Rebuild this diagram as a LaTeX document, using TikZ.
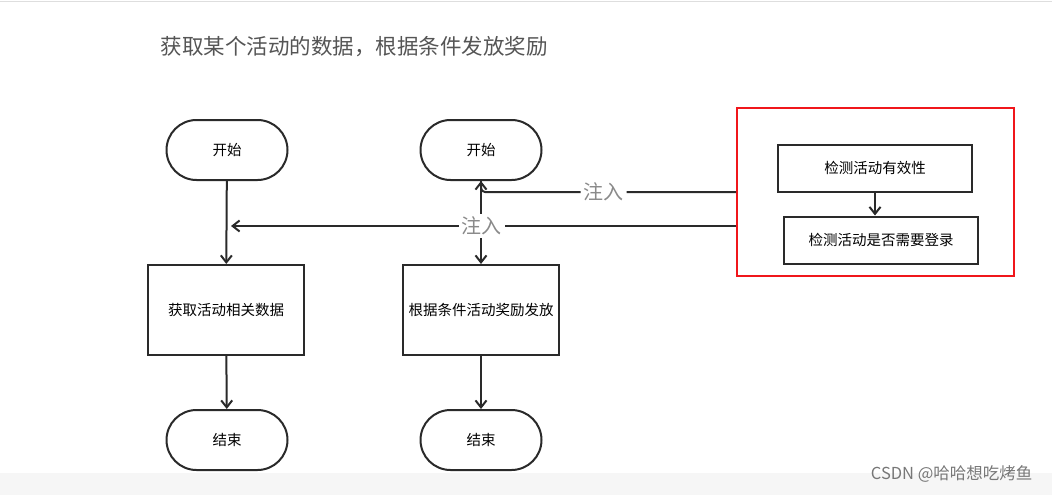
\documentclass[tikz,border=0pt]{standalone}
\usepackage{fontspec}
\newfontfamily\cjk{Noto Sans CJK SC}
\usetikzlibrary{arrows.meta,positioning}
\definecolor{FlowLine}{HTML}{2A2A2A}
\definecolor{TitleGray}{HTML}{555555}
\definecolor{TagGray}{HTML}{8A8A8A}
\definecolor{BandGray}{HTML}{F6F6F6}
\definecolor{InjRed}{HTML}{F0161B}

\begin{document}
\begin{tikzpicture}[x=1pt,y=-1pt,
  term/.style={draw=FlowLine,line width=2pt,rounded corners=30pt,minimum width=121pt,minimum height=60pt,font=\cjk\fontsize{14.5}{16}\selectfont},
  proc/.style={draw=FlowLine,line width=2pt,minimum width=156pt,minimum height=90pt,font=\cjk\fontsize{14.5}{16}\selectfont},
  chk/.style={draw=FlowLine,line width=2pt,minimum width=194pt,minimum height=47pt,font=\cjk\fontsize{14.5}{16}\selectfont},
  a/.style={-{Straight Barb[length=7pt,width=11pt]},line width=2pt,draw=FlowLine},
  lbl/.style={fill=white,text=TagGray,inner sep=3pt,font=\cjk\fontsize{20}{22}\selectfont}]
\useasboundingbox (0,0) rectangle (1052,495);
\fill[BandGray] (0,473) rectangle (1052,495);
\draw[BandGray!80!gray,line width=1pt] (0,2) -- (1052,2);

\node[anchor=west,text=TitleGray,font=\cjk\fontsize{21.5}{24}\selectfont] (title) at (157,47) {获取某个活动的数据，根据条件发放奖励};

% left flow
\node[term] (s1) at (227,150) {开始};
\node[proc] (p1) at (226,310) {获取活动相关数据};
\node[term] (e1) at (227,440) {结束};
% middle flow
\node[term] (s2) at (481,150) {开始};
\node[proc] (p2) at (481,310) {根据条件活动奖励发放};
\node[term] (e2) at (481,440) {结束};
% checks
\node[chk] (c1) at (875,168) {检测活动有效性};
\node[chk] (c2) at (881,240) {检测活动是否需要登录};
\node[draw=InjRed,line width=1.6pt,minimum width=277pt,minimum height=168pt] (inj) at (875.5,192) {};
\coordinate[below=34pt of inj.west] (j2);

\draw[a] (s1) -- (p1);
\draw[a] (p1) -- (e1);
\draw[a] (s2) -- (p2);
\draw[a] (p2) -- (e2);
\draw[a] (c1.south) -- (c1.south |- c2.north);
\draw[a,rounded corners=4pt] (inj.west) -| (s2.south) node[lbl,pos=0.26] {注入};
\draw[a,shorten >=4pt] (j2) -- (j2 -| s1) node[lbl,pos=0.5] {注入};

\node[anchor=east,text=TitleGray!80,font=\cjk\fontsize{16.5}{18}\selectfont] (mark) at (1036,474) {CSDN @哈哈想吃烤鱼};
\end{tikzpicture}
\end{document}
